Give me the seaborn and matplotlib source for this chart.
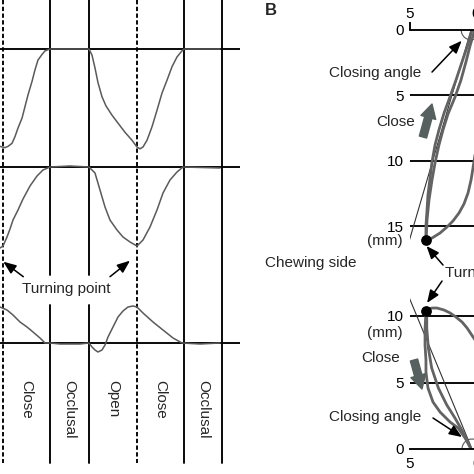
import numpy as np
import pandas as pd
import matplotlib
matplotlib.use('Agg')
import matplotlib.pyplot as plt
from matplotlib.patches import Arc
import seaborn as sns

sns.set_style('white')
plt.rcParams['font.family'] = ['Liberation Sans', 'DejaVu Sans']
plt.rcParams['font.size'] = 11

# ---------------- Panel A data (time in arbitrary units) ----------------
phase_boundaries = [2.5, 50, 89, 137, 184, 222]
boundary_dashed = [True, False, False, True, False, False]
phase_labels = ['Close', 'Occlusal', 'Open', 'Close', 'Occlusal']
gap_boundaries = [50, 89]          # solid lines interrupted by the "Turning point" label

vert_t = [0, 5, 8, 12, 15, 18, 22, 25, 28, 32, 35, 38, 42, 45, 50, 89, 92, 95, 98, 102,
          106, 112, 118, 125, 132, 137, 140, 143, 147, 152, 157, 162, 167, 172, 177, 182, 184, 220]
vert_v = [-15.9, -16.1, -15.9, -15.4, -14.3, -12.9, -11.3, -9.4, -7.5, -5.3, -3.4, -1.8, -0.9,
          -0.3, 0, 0, -1.0, -3.1, -5.5, -7.8, -9.3, -10.8, -12.1, -13.6, -14.9, -16.0, -16.3,
          -16.0, -14.9, -12.7, -10.0, -7.2, -5.1, -2.9, -1.3, -0.3, 0, 0]

mid_t = [0, 3, 7, 10, 13, 18, 23, 30, 37, 43, 50, 70, 89, 95, 100, 105, 110, 117, 123, 130,
         137, 143, 150, 157, 163, 170, 177, 183, 220]
mid_v = [-8.1, -7.9, -7.0, -6.2, -5.3, -4.3, -3.2, -1.9, -0.9, -0.3, 0, 0.1, 0, -0.6, -2.3,
         -4.0, -5.3, -6.3, -7.0, -7.5, -7.9, -7.3, -6.0, -4.3, -2.6, -1.3, -0.5, 0, -0.1]

low_t = [0, 7, 13, 20, 27, 33, 40, 45, 50, 60, 80, 89, 92, 95, 98, 102, 105, 108, 113, 118,
         123, 128, 133, 137, 143, 153, 163, 173, 182, 200, 220]
low_v = [3.6, 3.3, 2.8, 2.1, 1.6, 1.1, 0.5, 0.0, 0, -0.1, -0.1, 0, -0.4, -0.7, -0.9, -0.7,
         -0.2, 0.6, 1.6, 2.6, 3.2, 3.6, 3.7, 3.6, 3.0, 2.1, 1.3, 0.5, 0, -0.1, 0]

# ---------------- Panel B data (mm) ----------------
up_close1_x = [3.78, 3.78, 3.70, 3.63, 3.47, 3.32, 3.09, 2.79, 2.40, 1.95, 1.49, 1.03, 0.57, 0.27]
up_close1_y = [16.03, 14.89, 13.74, 12.60, 11.30, 10.08, 8.78, 7.63, 6.34, 5.11, 3.82, 2.44, 1.07, 0.0]
up_close2_x = [3.78, 3.70, 3.55, 3.32, 3.09, 2.79, 2.48, 2.10, 1.56, 1.11, 0.73, 0.42, 0.11]
up_close2_y = [16.03, 14.50, 12.98, 11.45, 10.15, 8.78, 7.63, 6.41, 5.11, 3.82, 2.44, 1.22, 0.15]
up_open_x = [3.78, 3.32, 2.71, 2.18, 1.72, 1.26, 0.88, 0.57, 0.34, 0.19, 0.04, -0.11]
up_open_y = [16.03, 15.88, 15.50, 15.04, 14.58, 13.97, 13.28, 12.44, 11.45, 10.53, 9.54, 8.40]
up_angle_x = [5.31, 0.34]
up_angle_y = [16.95, 0.0]
up_turn = (3.78, 16.03)

lo_close1_x = [3.80, 3.87, 3.87, 3.80, 3.80, 3.65, 3.27, 2.74, 1.99, 1.39, 0.86, 0.41]
lo_close1_y = [10.38, 8.95, 7.82, 6.69, 5.79, 4.59, 3.53, 2.78, 2.03, 1.58, 0.83, 0.0]
lo_close2_x = [3.74, 3.74, 3.62, 3.37, 2.87, 2.24, 1.62, 1.02, 0.64, 0.41]
lo_close2_y = [10.32, 9.10, 7.59, 6.09, 4.59, 3.32, 2.33, 1.28, 0.53, 0.0]
lo_open_x = [3.80, 3.35, 2.97, 2.44, 1.99, 1.54, 1.09, 0.71, 0.41, 0.11, -0.11]
lo_open_y = [10.45, 10.60, 10.60, 10.45, 10.23, 9.92, 9.55, 9.10, 8.65, 8.20, 7.74]
lo_angle_x = [5.08, 0.34]
lo_angle_y = [11.43, 0.0]
lo_turn = (3.80, 10.38)

up_yticks = [0, 5, 10, 15]
lo_yticks = [0, 5, 10]
x_ticks = [5, 0]

# ---------------- layout helpers ----------------
W = H = 474
fig = plt.figure(figsize=(W / 100, H / 100), dpi=100)


def px_rect(x0, y0, x1, y1):
    return [x0 / W, 1 - y1 / H, (x1 - x0) / W, (y1 - y0) / H]


TRACE_GRAY = '#5a5a5a'
CURVE_GRAY = '#636363'
ARROW_GRAY = '#56605f'
LW_BLACK = 1.35

# background axes for panel A (pixel-like layout units)
bg = fig.add_axes(px_rect(0, 0, 240, H))
bg.set_xlim(0, 240)
bg.set_ylim(H, 0)
bg.axis('off')

for b, dashed in zip(phase_boundaries, boundary_dashed):
    if dashed:
        bg.plot([b, b], [0, 463], color='k', lw=LW_BLACK, ls=(0, (2.3, 1.3)))
    elif b in gap_boundaries:
        bg.plot([b, b], [0, 275], color='k', lw=LW_BLACK)
        bg.plot([b, b], [305, 463], color='k', lw=LW_BLACK)
    else:
        bg.plot([b, b], [0, 463], color='k', lw=LW_BLACK)

for i, lab in enumerate(phase_labels):
    xc = (phase_boundaries[i] + phase_boundaries[i + 1]) / 2
    bg.text(xc, 380, lab, rotation=-90, ha='center', va='top', fontsize=11)

bg.text(66.7, 288.5, 'Turning point', ha='center', va='center', fontsize=11)
arrow_k = dict(arrowstyle='-|>,head_length=0.55,head_width=0.22', color='k', lw=1.1,
               mutation_scale=14, shrinkA=0, shrinkB=0)
bg.annotate('', xy=(3.3, 261.7), xytext=(23.3, 276.7), arrowprops=arrow_k)
bg.annotate('', xy=(130, 260.7), xytext=(110, 276.7), arrowprops=arrow_k)


def trace_axes(base_px, px_per_unit):
    ax = fig.add_axes(px_rect(0, 0, 240, H))
    ax.set_xlim(0, 240)
    ax.set_ylim(-(H - base_px) / px_per_unit, base_px / px_per_unit)
    ax.axis('off')
    ax.patch.set_alpha(0)
    ax.axhline(0, color='k', lw=LW_BLACK, zorder=1)
    return ax


ax1 = trace_axes(49, 6.125)
sns.lineplot(x=vert_t, y=vert_v, ax=ax1, color=TRACE_GRAY, lw=1.1, sort=False, estimator=None, zorder=3)
ax2 = trace_axes(167, 10.0)
sns.lineplot(x=mid_t, y=mid_v, ax=ax2, color=TRACE_GRAY, lw=1.1, sort=False, estimator=None, zorder=3)
ax3 = trace_axes(343, 10.0)
sns.lineplot(x=low_t, y=low_v, ax=ax3, color=TRACE_GRAY, lw=1.1, sort=False, estimator=None, zorder=3)

# ---------------- Panel B ----------------
fig.text(265 / W, 1 - 15 / H, 'B', fontsize=12, fontweight='bold', ha='left', va='baseline')

su = 13.1
axU = fig.add_axes(px_rect(410, 30, 410 + 10 * su, 30 + 17.5 * su))
axU.set_xlim(5, -5)
axU.set_ylim(17.5, 0)
axU.patch.set_alpha(0)
for s in ['left', 'right', 'bottom']:
    axU.spines[s].set_visible(False)
axU.spines['top'].set_color('k')
axU.spines['top'].set_linewidth(LW_BLACK)
axU.xaxis.tick_top()
axU.set_xticks(x_ticks)
axU.set_xticklabels([str(v) for v in x_ticks])
axU.tick_params(axis='x', direction='out', length=6, width=LW_BLACK, pad=0.5, labelsize=11, colors='k')
axU.set_yticks(up_yticks)
axU.set_yticklabels([str(v) for v in up_yticks])
axU.tick_params(axis='y', length=0, pad=4.5, labelsize=11, colors='k')
axU.hlines(up_yticks[1:], 5, -5, color='k', lw=LW_BLACK)
sns.lineplot(x=up_angle_x, y=up_angle_y, ax=axU, color='#333333', lw=0.8, sort=False, estimator=None)
for xs, ys in [(up_close1_x, up_close1_y), (up_close2_x, up_close2_y), (up_open_x, up_open_y)]:
    sns.lineplot(x=xs, y=ys, ax=axU, color=CURVE_GRAY, lw=2.0, sort=False, estimator=None)
axU.add_patch(Arc((up_angle_x[1], 0), 1.5, 1.5, theta1=0, theta2=180, color='#555555', lw=0.8))
axU.scatter([up_turn[0]], [up_turn[1]], s=45, color='k', zorder=5, clip_on=False)
axU.set_xlabel('')
axU.set_ylabel('')
axU.annotate('(mm)', xy=(5, 15), xytext=(-5, -10.4), textcoords='offset points',
             ha='right', va='center', fontsize=11)
axU.text(6.07, 7.02, 'Close', ha='center', va='center', fontsize=11)
axU.text(7.67, 3.28, 'Closing angle', ha='center', va='center', fontsize=11)
arrow_big = dict(arrowstyle='simple,head_length=0.5,head_width=0.55,tail_width=0.27',
                 color=ARROW_GRAY, mutation_scale=20, shrinkA=0, shrinkB=0)
axU.annotate('', xy=(3.32, 5.65), xytext=(4.01, 8.17), arrowprops=arrow_big, annotation_clip=False)
axU.annotate('', xy=(1.05, 0.82), xytext=(3.32, 3.21), arrowprops=arrow_k, annotation_clip=False)
axU.annotate('', xy=(3.74, 16.49), xytext=(2.48, 17.94), arrowprops=arrow_k, annotation_clip=False)

sl = 13.3
axL = fig.add_axes(px_rect(410, 449 - 12 * sl, 410 + 10 * sl, 449))
axL.set_xlim(5, -5)
axL.set_ylim(0, 12)
axL.patch.set_alpha(0)
for s in ['left', 'right', 'top']:
    axL.spines[s].set_visible(False)
axL.spines['bottom'].set_color('k')
axL.spines['bottom'].set_linewidth(LW_BLACK)
axL.set_xticks(x_ticks)
axL.set_xticklabels([str(v) for v in x_ticks])
axL.tick_params(axis='x', direction='out', length=4, width=LW_BLACK, pad=1.5, labelsize=11, colors='k')
axL.set_yticks(lo_yticks)
axL.set_yticklabels([str(v) for v in lo_yticks])
axL.tick_params(axis='y', length=0, pad=4.5, labelsize=11, colors='k')
axL.hlines(lo_yticks[1:], 5, -5, color='k', lw=LW_BLACK)
sns.lineplot(x=lo_angle_x, y=lo_angle_y, ax=axL, color='#333333', lw=0.8, sort=False, estimator=None)
for xs, ys in [(lo_close1_x, lo_close1_y), (lo_close2_x, lo_close2_y), (lo_open_x, lo_open_y)]:
    sns.lineplot(x=xs, y=ys, ax=axL, color=CURVE_GRAY, lw=2.0, sort=False, estimator=None)
axL.add_patch(Arc((lo_angle_x[1], 0), 1.5, 1.5, theta1=0, theta2=180, color='#555555', lw=0.8))
axL.scatter([lo_turn[0]], [lo_turn[1]], s=45, color='k', zorder=5, clip_on=False)
axL.set_xlabel('')
axL.set_ylabel('')
axL.annotate('(mm)', xy=(5, 10), xytext=(-5, -11.9), textcoords='offset points',
             ha='right', va='center', fontsize=11)
axL.text(7.18, 6.84, 'Close', ha='center', va='center', fontsize=11)
axL.text(7.63, 2.41, 'Closing angle', ha='center', va='center', fontsize=11)
axL.annotate('', xy=(4.10, 4.51), xytext=(4.70, 6.69), arrowprops=arrow_big, annotation_clip=False)
axL.annotate('', xy=(1.09, 0.90), xytext=(3.27, 2.33), arrowprops=arrow_k, annotation_clip=False)
axL.annotate('', xy=(3.72, 10.98), xytext=(2.59, 12.63), arrowprops=arrow_k, annotation_clip=False)

fig.text(265 / W, 1 - 263 / H, 'Chewing side', ha='left', va='center', fontsize=11)
fig.text(445 / W, 1 - 273 / H, 'Turning point', ha='left', va='center', fontsize=11)

fig.savefig('out.png', dpi=100)
